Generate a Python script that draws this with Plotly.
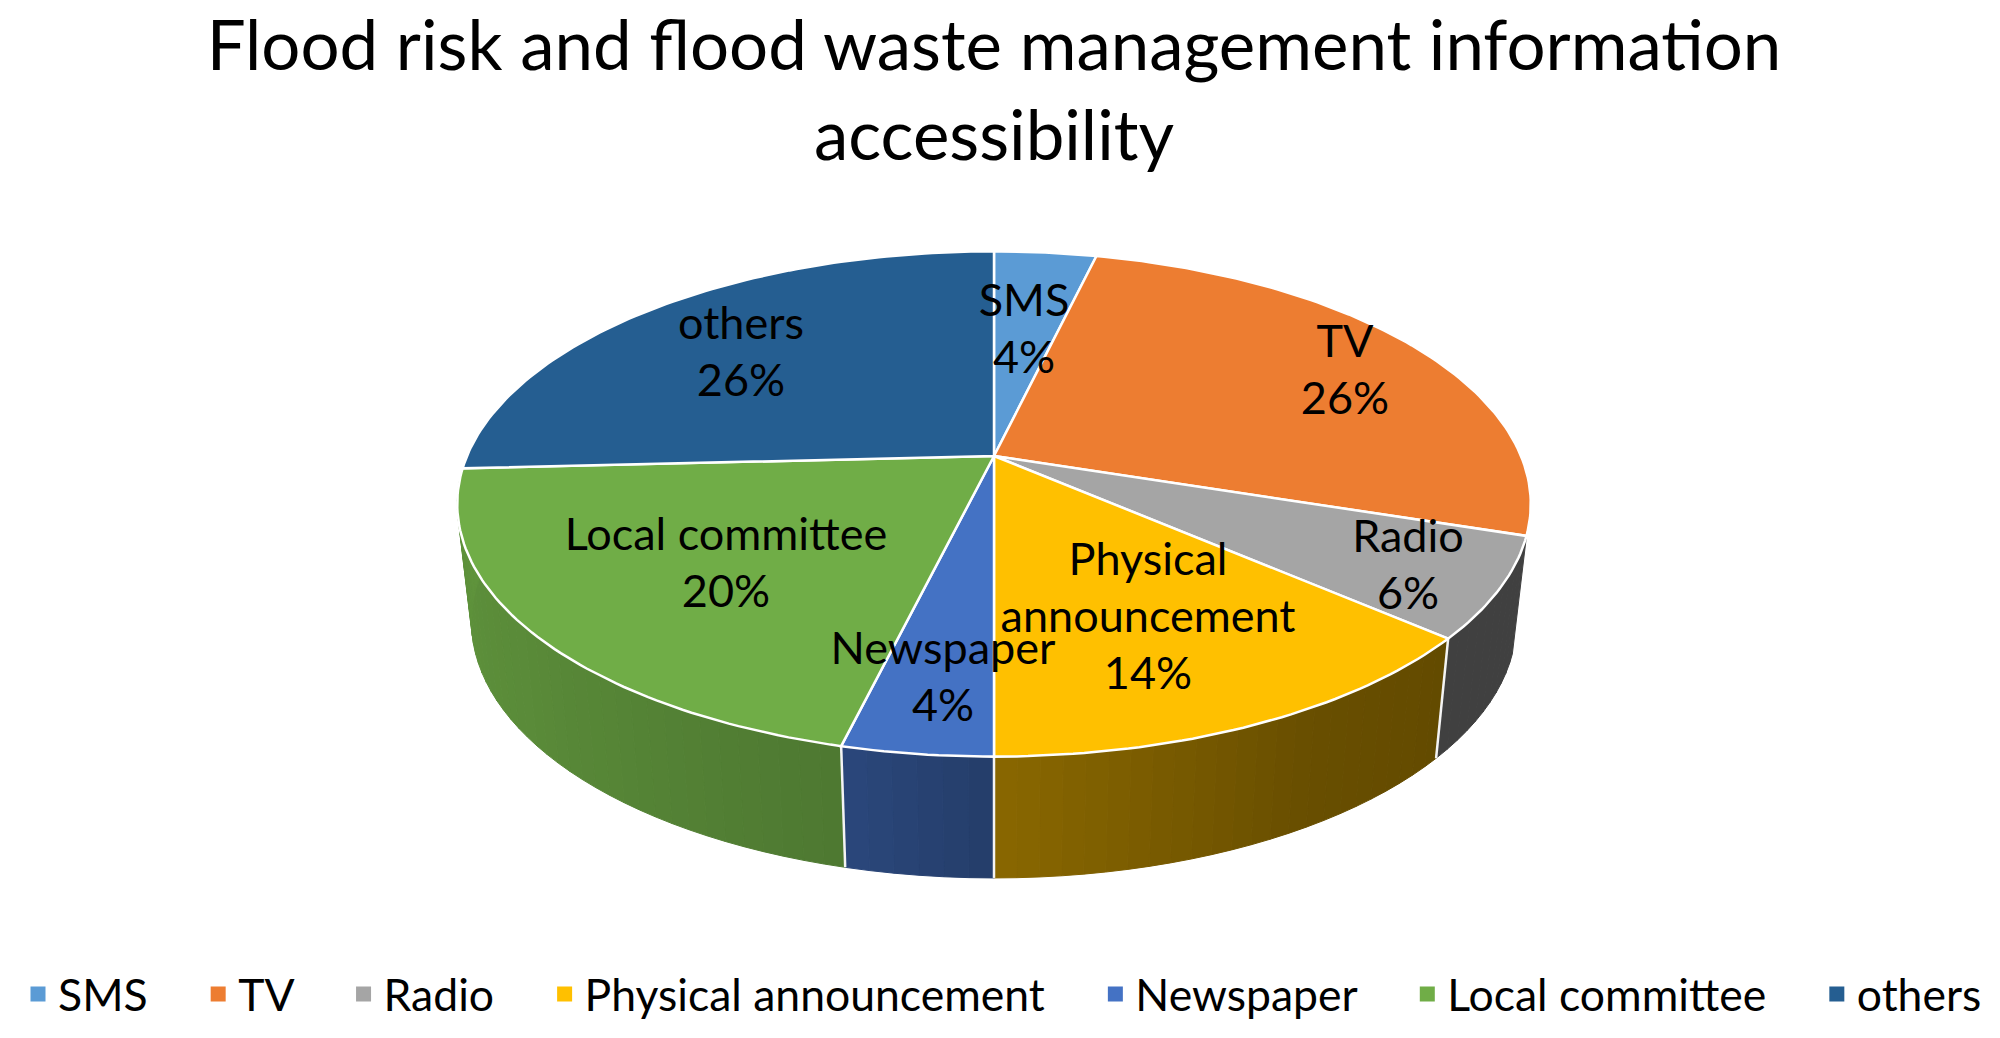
import numpy as np
import plotly.graph_objects as go

TITLE = "Flood risk and flood waste management information<br>accessibility"
categories = ["SMS", "TV", "Radio", "Physical announcement", "Newspaper", "Local committee", "others"]
shares = [3.7, 26.3, 6.4, 13.6, 3.8, 20.4, 25.8]
colors = ["#5B9BD5", "#ED7D31", "#A5A5A5", "#FFC000", "#4472C4", "#70AD47", "#255E91"]
label_lines = [["SMS"], ["TV"], ["Radio"], ["Physical", "announcement"], ["Newspaper"], ["Local committee"], ["others"]]

# layout of the drawn pie (pixel space of the 2000x1038 canvas)
label_anchor = [(1024, 305), (1345, 346), (1408, 541), (1148, 564), (943, 653), (726, 539), (741, 328)]
CX, CY, R, A, K = 994.0, 456.0, 527.0, 243.5, 0.19
R2, CY2, A2 = 513.0, 573.0, 247.0
LINE_PITCH = 57
FONT = "Lato"
PAGE = 8  # browser body margin
LEGEND_PAD = "\u00a0" * 4


def top(theta, frac=1.0):
    t = np.radians(theta)
    u, v = np.sin(t) * frac, -np.cos(t) * frac
    w = 1 - K * v
    return CX + R * u / w, CY + A * v / w


def bottom(theta):
    t = np.radians(theta)
    u, v = np.sin(t), -np.cos(t)
    w = 1 - K * v
    return CX + R2 * u / w, CY2 + A2 * v / w


def shade(hex_color, f):
    rgb = [int(hex_color[i:i + 2], 16) for i in (1, 3, 5)]
    return "rgb({},{},{})".format(*[int(c * f) for c in rgb])


edges = np.concatenate([[0], np.cumsum(shares)]) / sum(shares) * 360.0


def shade_factor(theta):
    e = edges[5]
    return float(np.interp(theta, [108, 130, 150, 180, e - 0.05, e + 0.05, 230, 272],
                           [0.39, 0.39, 0.41, 0.54, 0.63, 0.70, 0.80, 0.86]))


fig = go.Figure()

# front wall, as narrow shaded strips per slice (Radio .. Local committee)
for i in range(2, 6):
    color = colors[i]
    a0, a1 = edges[i], edges[i + 1] if i < 5 else 272.0
    n = max(2, int((a1 - a0) / 2))
    steps = np.linspace(a0, a1, n + 1)
    for s0, s1 in zip(steps[:-1], steps[1:]):
        th = np.linspace(s0, s1, 4)
        xt, yt = top(th)
        xb, yb = bottom(th[::-1])
        c = shade(color, shade_factor((s0 + s1) / 2))
        fig.add_trace(go.Scatter(x=np.r_[xt, xb, xt[0]], y=np.r_[yt, yb, yt[0]], mode="lines", fill="toself",
                                 fillcolor=c, line=dict(color=c, width=1), showlegend=False, hoverinfo="skip"))

# white vertical edges between the front walls (drawn above every strip)
for i in range(3, 6):
    xa, ya = top(edges[i])
    xc, yc = bottom(edges[i])
    fig.add_trace(go.Scatter(x=[xa, xc], y=[ya, yc], mode="lines", line=dict(color="#F4F4F4", width=2.5),
                             showlegend=False, hoverinfo="skip"))

# top face
for i, color in enumerate(colors):
    th = np.linspace(edges[i], edges[i + 1], max(8, int(edges[i + 1] - edges[i]) + 2))
    xr, yr = top(th)
    fig.add_trace(go.Scatter(x=np.r_[CX, xr, CX], y=np.r_[CY, yr, CY], mode="lines", fill="toself",
                             fillcolor=color, line=dict(color="white", width=2.5), showlegend=False,
                             hoverinfo="skip"))

# data labels
lx, ly, lt = [], [], []
for i, lines in enumerate(label_lines):
    for j, part in enumerate(lines + [f"{round(shares[i])}%"]):
        lx.append(label_anchor[i][0])
        ly.append(label_anchor[i][1] + j * LINE_PITCH)
        lt.append(part)
fig.add_trace(go.Scatter(x=lx, y=ly, text=lt, mode="text", textposition="middle center",
                         textfont=dict(family=FONT, size=45, color="black"), showlegend=False, hoverinfo="skip"))

# legend entries
for k, (name, color) in enumerate(zip(categories, colors)):
    pad = LEGEND_PAD if k < len(categories) - 1 else ""
    fig.add_trace(go.Scatter(x=[None], y=[None], mode="markers", name=name + pad,
                             marker=dict(symbol="square", size=15, color=color)))

fig.update_layout(
    width=2000, height=1038, margin=dict(l=0, r=0, t=0, b=0, autoexpand=False), paper_bgcolor="white",
    plot_bgcolor="white",
    title=dict(text=TITLE, x=(994 - PAGE) / 2000, xanchor="center", y=0.94, yanchor="top", yref="container",
               font=dict(family=FONT, size=69, color="black")),
    xaxis=dict(range=[PAGE, 2000 + PAGE], visible=False, fixedrange=True),
    yaxis=dict(range=[1038 + PAGE, PAGE], visible=False, fixedrange=True),
    legend=dict(orientation="h", x=0.005, xanchor="left", y=1 - (994 - PAGE) / 1038, yanchor="middle",
                font=dict(family=FONT, size=44.5, color="black"), bgcolor="rgba(0,0,0,0)", itemwidth=30),
    showlegend=True,
)
fig.write_html("out.html")
